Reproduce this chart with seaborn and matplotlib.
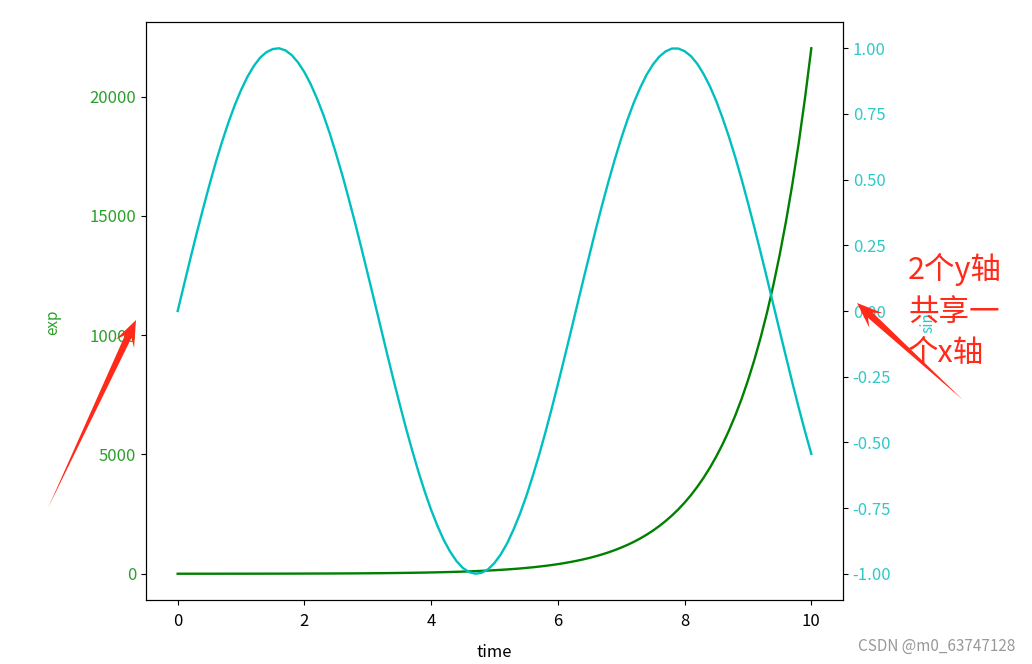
import numpy as np
import pandas as pd
import matplotlib
matplotlib.use("Agg")
import matplotlib.pyplot as plt
import seaborn as sns
from matplotlib.patches import Polygon

# values (time step 0.1)
time = [0.0, 0.1, 0.2, 0.3, 0.4, 0.5, 0.6, 0.7, 0.8, 0.9,
        1.0, 1.1, 1.2, 1.3, 1.4, 1.5, 1.6, 1.7, 1.8, 1.9,
        2.0, 2.1, 2.2, 2.3, 2.4, 2.5, 2.6, 2.7, 2.8, 2.9,
        3.0, 3.1, 3.2, 3.3, 3.4, 3.5, 3.6, 3.7, 3.8, 3.9,
        4.0, 4.1, 4.2, 4.3, 4.4, 4.5, 4.6, 4.7, 4.8, 4.9,
        5.0, 5.1, 5.2, 5.3, 5.4, 5.5, 5.6, 5.7, 5.8, 5.9,
        6.0, 6.1, 6.2, 6.3, 6.4, 6.5, 6.6, 6.7, 6.8, 6.9,
        7.0, 7.1, 7.2, 7.3, 7.4, 7.5, 7.6, 7.7, 7.8, 7.9,
        8.0, 8.1, 8.2, 8.3, 8.4, 8.5, 8.6, 8.7, 8.8, 8.9,
        9.0, 9.1, 9.2, 9.3, 9.4, 9.5, 9.6, 9.7, 9.8, 9.9,
        10.0]
exp_vals = [1.00, 1.11, 1.22, 1.35, 1.49, 1.65, 1.82, 2.01, 2.23, 2.46,
            2.72, 3.00, 3.32, 3.67, 4.06, 4.48, 4.95, 5.47, 6.05, 6.69,
            7.39, 8.17, 9.03, 9.97, 11.0, 12.2, 13.5, 14.9, 16.4, 18.2,
            20.1, 22.2, 24.5, 27.1, 30.0, 33.1, 36.6, 40.4, 44.7, 49.4,
            54.6, 60.3, 66.7, 73.7, 81.5, 90.0, 99.5, 110, 122, 134,
            148, 164, 181, 200, 221, 245, 270, 299, 330, 365,
            403, 446, 493, 545, 602, 665, 735, 812, 898, 992,
            1097, 1212, 1339, 1480, 1636, 1808, 1998, 2208, 2441, 2697,
            2981, 3294, 3641, 4024, 4447, 4915, 5432, 6003, 6634, 7332,
            8103, 8955, 9897, 10938, 12088, 13360, 14765, 16318, 18034, 19930,
            22026]
sin_vals = [0.000, 0.100, 0.199, 0.296, 0.389, 0.479, 0.565, 0.644, 0.717, 0.783,
            0.841, 0.891, 0.932, 0.964, 0.985, 0.997, 1.000, 0.992, 0.974, 0.946,
            0.909, 0.863, 0.808, 0.746, 0.676, 0.598, 0.516, 0.427, 0.335, 0.239,
            0.141, 0.042, -0.058, -0.158, -0.256, -0.351, -0.443, -0.530, -0.612, -0.688,
            -0.757, -0.818, -0.872, -0.916, -0.952, -0.978, -0.994, -1.000, -0.996, -0.983,
            -0.959, -0.926, -0.884, -0.832, -0.773, -0.706, -0.631, -0.551, -0.465, -0.374,
            -0.279, -0.182, -0.083, 0.017, 0.117, 0.215, 0.312, 0.405, 0.494, 0.578,
            0.657, 0.729, 0.794, 0.850, 0.899, 0.938, 0.968, 0.988, 0.999, 0.999,
            0.989, 0.970, 0.941, 0.902, 0.855, 0.799, 0.734, 0.663, 0.585, 0.501,
            0.412, 0.319, 0.223, 0.125, 0.025, -0.075, -0.174, -0.272, -0.367, -0.458,
            -0.544]

df = pd.DataFrame({"time": time, "exp": exp_vals, "sin": sin_vals})

plt.rcParams['font.family'] = ['Noto Sans CJK SC', 'DejaVu Sans']
plt.rcParams['axes.unicode_minus'] = False

W, H = 1032, 664
fig = plt.figure(figsize=(W / 100, H / 100), dpi=100)
ax1 = fig.add_axes([146 / W, 1 - 600 / H, 697 / W, 578 / H])

sns.lineplot(data=df, x="time", y="exp", ax=ax1, color="g", linewidth=1.7)
ax1.set_xlabel("time", fontsize=12, labelpad=10)
ax1.set_ylabel("exp", color="#2ca02c", fontsize=11)
ax1.tick_params(axis='y', labelcolor="#2ca02c", labelsize=12)
ax1.tick_params(axis='x', labelsize=12, pad=6)
ax1.yaxis.set_label_coords(-0.122, 0.48)

ax2 = ax1.twinx()
sns.lineplot(data=df, x="time", y="sin", ax=ax2, color="c", linewidth=1.7)
ax2.set_ylabel("sin", color="#30c8c8", fontsize=11)
ax2.tick_params(axis='y', labelcolor="#30c8c8", labelsize=12)
ax2.yaxis.set_label_coords(1.11, 0.48)


# red annotations drawn on top of the picture (pixel coords, y from top)
def red_arrow(tail, tip, head_len=26, head_w=10, shaft_w=3.5):
    tail = np.array(tail, float)
    tip = np.array(tip, float)
    d = tip - tail
    d = d / np.hypot(*d)
    n = np.array([-d[1], d[0]])
    base = tip - d * head_len
    neck = tip - d * head_len * 0.7
    pts = [tail,
           neck + n * shaft_w,
           base + n * head_w,
           tip,
           base - n * head_w,
           neck - n * shaft_w]
    pts = [(p[0] / W, 1 - p[1] / H) for p in pts]
    fig.patches.append(Polygon(pts, closed=True, transform=fig.transFigure,
                               facecolor="#ff2a1a", edgecolor="none", zorder=10))


red_arrow((48, 508), (136, 320))
red_arrow((963, 400), (857, 303))

fig.text(908 / W, 1 - 269 / H, "2个y轴", color="#ff2a1a", fontsize=22, va="center")
fig.text(908 / W, 1 - 312 / H, "共享一", color="#ff2a1a", fontsize=22, va="center")
fig.text(908 / W, 1 - 354 / H, "个x轴", color="#ff2a1a", fontsize=22, va="center")

fig.text(1015 / W, 1 - 646 / H, "CSDN @m0_63747128", color="#999999",
         fontsize=11, ha="right", va="center")

fig.savefig("out.png", dpi=100)
